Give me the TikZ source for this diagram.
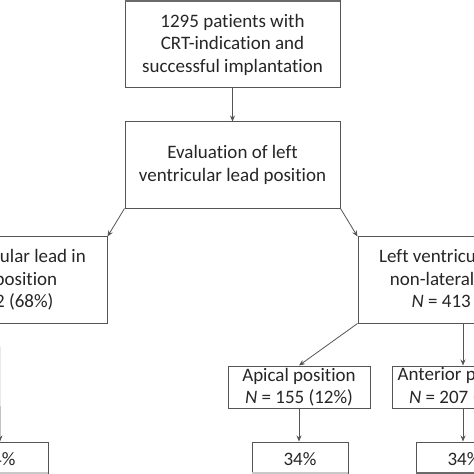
\documentclass[tikz,border=0pt]{standalone}
\usepackage{fontspec}
\setmainfont[Ligatures=NoCommon]{Carlito}
\usetikzlibrary{arrows.meta}
\definecolor{txt}{HTML}{262626}
\definecolor{ln}{HTML}{555555}
\definecolor{lightstrip}{HTML}{C8C8C8}
\definecolor{darkstrip}{HTML}{6A6A6A}
\tikzset{
  box/.style={draw=ln, line width=1bp, fill=white, text=txt, align=center,
    inner sep=0pt, font=\fontsize{19bp}{22.5bp}\selectfont},
  lbl/.style={text=txt, font=\fontsize{19bp}{22.5bp}\selectfont, inner sep=0pt},
  conn/.style={draw=ln, line width=0.8bp, -{Stealth[length=6bp,width=5bp]}},
}
\begin{document}
\begin{tikzpicture}[x=1bp,y=-1bp]
\useasboundingbox (0,0) rectangle (474,474);
\clip (0,0) rectangle (474,474);
\fill[white] (0,0) rectangle (474,474);
% top boxes
\node[box, minimum width=215bp, minimum height=87bp] (top) at (232.5,44.5)
  {1295 patients with\\CRT-indication and\\successful implantation};
\node[box, minimum width=215bp, minimum height=86bp] (eval) at (232.5,165)
  {Evaluation of left\\ventricular lead position};
\node[box, minimum width=215bp, minimum height=86bp] (llat) at (-0.5,280)
  {Left ventricular lead in\\lateral position\\\textit{N} = 882 (68\%)};
\node[box, minimum width=215bp, minimum height=86bp] (rlat) at (465.5,280)
  {Left ventricular lead in\\non-lateral position\\\textit{N} = 413 (32\%)};
\node[box, minimum width=142bp, minimum height=42bp] (apical) at (299,387)
  {Apical position\\\textit{N} = 155 (12\%)};
\node[box, minimum width=142bp, minimum height=42bp] (anterior) at (463,387)
  {Anterior position\\\textit{N} = 207 (16\%)};
% bottom boxes
\node[box, minimum width=96bp, minimum height=40bp] (b0) at (0,462) {};
\node[box, minimum width=96bp, minimum height=40bp] (b1) at (300,462) {};
\node[box, minimum width=96bp, minimum height=40bp] (b2) at (464,462) {};
\node[lbl] (t0) at (-1,459) {34\%};
\node[lbl] (t1) at (300,459) {34\%};
\node[lbl] (t2) at (464,459) {34\%};
% strips at the cropped edges
\fill[darkstrip] (125,-1) rectangle (340,2);
\fill[lightstrip] (-48,472) rectangle (48,476);
\fill[lightstrip] (252,472) rectangle (348,476);
\fill[darkstrip] (416,472) rectangle (512,476);
% connectors
\draw[conn] (top.south) -- (eval.north);
\draw[conn] (eval.south west) -- (llat.north east);
\draw[conn] (eval.south east) -- (rlat.north west);
\draw[conn] (rlat.south west) -- (apical.north);
\draw[conn] (anterior.north |- rlat.south) -- (anterior.north);
\draw[conn] (llat.south) -- (b0.north);
\draw[conn] (apical.south) -- (apical.south |- b1.north);
\draw[conn] (anterior.south) -- (anterior.south |- b2.north);
\end{tikzpicture}
\end{document}
